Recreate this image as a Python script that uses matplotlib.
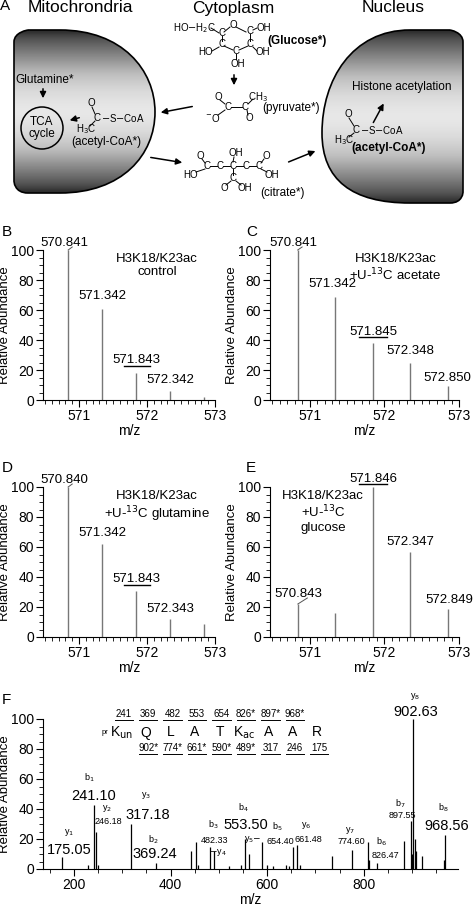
import numpy as np
import matplotlib.pyplot as plt
from matplotlib.path import Path
from matplotlib.patches import PathPatch, Circle, FancyArrowPatch
from matplotlib.ticker import MultipleLocator

plt.rcParams['font.family'] = ['Liberation Sans', 'DejaVu Sans']

# ---- data: isotope clusters (m/z, relative abundance) ----
mz_b = [570.841, 571.342, 571.843, 572.342, 572.842]
ab_b = [100, 61, 18, 6, 2]
mz_c = [570.841, 571.342, 571.845, 572.348, 572.850]
ab_c = [100, 69, 38, 25, 9.5]
mz_d = [570.840, 571.342, 571.843, 572.343, 572.845]
ab_d = [100, 62, 31, 12, 9]
mz_e = [570.843, 571.342, 571.846, 572.347, 572.849]
ab_e = [22, 16, 100, 57, 19]

# ---- data: MS/MS spectrum ----
mz_f = [175.05, 230, 241.10, 246.18, 249, 317.18, 369.24, 442, 452, 456, 482.33, 489,
        520, 545, 553.50, 563, 590, 600, 612, 640, 646, 654.40, 661.48, 668, 735,
        774.60, 808, 811, 826.47, 884, 897.55, 900, 902.63, 905, 908, 920, 965, 968.56]
ab_f = [8, 3, 43, 25, 3, 30, 4, 12, 18, 3, 15, 12,
        2, 3, 20, 10, 18, 3, 2, 3, 2, 15, 16, 3, 9,
        13, 18, 6, 4, 19, 32, 10, 100, 20, 12, 9, 6, 23]

fig = plt.figure(figsize=(4.74, 9.09), dpi=100)
W, H = 474, 909


def px_axes(l, t, r, b):
    return fig.add_axes([l / W, 1 - b / H, (r - l) / W, (b - t) / H])


# ================= panel A =================
axA = fig.add_axes([0, 1 - 212 / H, 1, 212 / H])
axA.set_xlim(0, 474)
axA.set_ylim(212, 0)
axA.axis('off')

grad = np.abs(np.linspace(-1, 1, 200))[:, None] ** 1.6 * np.ones((1, 10))

mito = Path([(28, 30), (60, 30), (122, 30), (155, 70), (155, 112), (155, 155), (122, 193),
             (60, 193), (28, 193), (14, 193), (14, 181), (14, 181), (14, 42), (14, 32), (28, 30), (28, 30)],
            [1, 2, 4, 4, 4, 4, 4, 4, 2, 4, 4, 4, 2, 4, 4, 79])
nuc = Path([(450, 30), (410, 30), (352, 30), (322, 80), (322, 133), (322, 180), (352, 203),
            (410, 203), (450, 203), (463, 203), (463, 192), (463, 192), (463, 42), (463, 32), (450, 30), (450, 30)],
           [1, 2, 4, 4, 4, 4, 4, 4, 2, 4, 4, 4, 2, 4, 4, 79])
for p, (y0, y1) in [(mito, (30, 193)), (nuc, (30, 203))]:
    patch = PathPatch(p, facecolor='none', edgecolor='black', lw=1.2, zorder=2)
    axA.add_patch(patch)
    im = axA.imshow(grad, cmap='Greys', vmin=-0.25, vmax=1.2, extent=(10, 466, y1, y0),
                    aspect='auto', zorder=1)
    im.set_clip_path(patch)

for x, s in [(80, 'Mitochrondria'), (233, 'Cytoplasm'), (393, 'Nucleus')]:
    axA.text(x, 8, s, ha='center', va='center', fontsize=12.5)
axA.text(0, 6, 'A', ha='left', va='center', fontsize=11)


def arrow(x0, y0, x1, y1):
    axA.add_patch(FancyArrowPatch((x0, y0), (x1, y1), arrowstyle='-|>', mutation_scale=9,
                                  lw=1.1, color='black', zorder=5))


def chem(x, y, s, fs=7, **kw):
    axA.text(x, y, s, ha='center', va='center', fontsize=fs, zorder=6, **kw)


def bond(pts):
    xs, ys = zip(*pts)
    axA.plot(xs, ys, color='black', lw=0.7, zorder=6)


# glucose
chem(195, 28, 'HO$-$H$_2$C')
bond([(211, 28), (219, 33)])
bond([(224, 32), (230, 27)]); chem(233, 25, 'O'); bond([(236, 27), (246, 32)])
bond([(253, 30), (257, 28)]); chem(264, 28, 'OH')
bond([(222, 36), (222, 41)]); bond([(250, 34), (250, 41)])
chem(222, 44, 'C'); chem(250, 44, 'C'); chem(222, 33, 'C'); chem(250, 31, 'C')
chem(206, 52, 'HO'); chem(263, 52, 'OH')
bond([(224, 46), (233, 50)]); bond([(248, 46), (239, 50)]); chem(236, 51, 'C')
bond([(212, 51), (219, 47)]); bond([(253, 47), (257, 51)])
bond([(236, 54), (236, 59)]); chem(238, 64, 'OH')
chem(297, 41, '(Glucose*)', fs=8.5, fontweight='bold')
arrow(234, 72, 234, 88)

# pyruvate
chem(218, 97, 'O'); chem(228, 107, 'C'); chem(245, 107, 'C'); chem(258, 97, 'CH$_3$')
chem(213, 118, '$^{-}$O'); chem(249, 118, 'O')
bond([(220, 100), (225, 104)]); bond([(231, 107), (242, 107)]); bond([(248, 104), (253, 99)])
bond([(225, 110), (218, 115)]); bond([(247, 110), (248, 115)])
chem(291, 108, '(pyruvate*)', fs=8.5)
arrow(195, 106, 158, 113)

# citrate
chem(200, 156, 'O'); chem(207, 166, 'C'); chem(220, 166, 'C'); chem(233, 166, 'C')
chem(246, 166, 'C'); chem(259, 166, 'C'); chem(266, 156, 'O')
chem(191, 175, 'HO'); chem(272, 175, 'OH'); chem(236, 153, 'OH')
chem(233, 178, 'C'); chem(224, 188, 'O'); chem(245, 188, 'OH')
for a, b in [(210, 217), (223, 230), (236, 243), (249, 256)]:
    bond([(a, 166), (b, 166)])
bond([(233, 162), (234, 157)]); bond([(233, 169), (233, 175)])
bond([(231, 181), (226, 185)]); bond([(236, 181), (241, 185)])
bond([(202, 159), (205, 163)]); bond([(205, 169), (196, 172)])
bond([(261, 163), (264, 159)]); bond([(261, 169), (267, 172)])
chem(283, 193, '(citrate*)', fs=8.5)
arrow(148, 157, 185, 163)
arrow(286, 163, 318, 150)

# mitochondria contents
axA.add_patch(Circle((42, 128), 21, facecolor='none', edgecolor='black', lw=1.1, zorder=6))
chem(42, 128, 'TCA\ncycle', fs=8.5, linespacing=1.1)
chem(45, 80, 'Glutamine*', fs=8.5)
arrow(43, 86, 43, 101)
chem(91, 103, 'O'); chem(97, 118, 'C'); chem(102, 118, '$-$S$-$CoA', ha_override=None) if False else None
axA.text(101, 118, '$-$S$-$CoA', ha='left', va='center', fontsize=7, zorder=6)
chem(86, 129, 'H$_3$C')
bond([(92, 107), (95, 114)]); bond([(95, 121), (90, 126)])
chem(106, 142, '(acetyl-CoA*)', fs=8.5)
arrow(82, 117, 67, 121)

# nucleus contents
chem(402, 87, 'Histone acetylation', fs=8.5)
arrow(372, 125, 385, 101)
chem(348, 114, 'O'); chem(356, 130, 'C')
axA.text(360, 130, '$-$S$-$CoA', ha='left', va='center', fontsize=7, zorder=6)
chem(344, 140, 'H$_3$C')
bond([(349, 118), (354, 126)]); bond([(354, 133), (349, 137)])
chem(389, 148, '(acetyl-CoA*)', fs=8.5, fontweight='bold')


# ================= panels B-E =================
def style_axes(ax):
    ax.set_ylim(0, 100)
    ax.spines[['top', 'right']].set_visible(False)
    ax.set_yticks(range(0, 101, 20))
    ax.yaxis.set_minor_locator(MultipleLocator(5))
    ax.tick_params(which='major', length=5, labelsize=10, width=0.8, pad=1.5)
    ax.tick_params(which='minor', length=3, width=0.6)
    ax.set_xlabel('m/z', fontsize=10, labelpad=1)
    ax.set_ylabel('Relative Abundance', fontsize=9.5, labelpad=0)


def spectrum(ax, mz, ab, labels, title, tx, ty):
    ax.vlines(mz, 0, ab, color='#777777', lw=1.0)
    ax.set_xlim(570.47, 573.0)
    ax.set_xticks([571, 572, 573])
    ax.xaxis.set_minor_locator(MultipleLocator(0.1))
    style_axes(ax)
    for text, x, y, under, lead in labels:
        ax.text(x, y + 1.5, text, ha='center', va='baseline', fontsize=9.5, clip_on=False)
        if under:
            ax.plot([x - 0.19, x + 0.19], [y - 0.2, y - 0.2], color='black', lw=1, clip_on=False)
        if lead is not None:
            ax.plot([x + 0.12, lead[0]], [y + 1, lead[1]], color='#555555', lw=0.7, clip_on=False)
    ax.text(tx, ty, title, ha='center', va='top', fontsize=9.5, linespacing=1.15)


axB = px_axes(43, 250, 215, 400)
spectrum(axB, mz_b, ab_b,
         [('570.841', 570.78, 101, False, (570.841, 100)),
          ('571.342', 571.35, 66, False, None),
          ('571.843', 571.85, 23, True, None),
          ('572.342', 572.34, 10, False, None)],
         'H3K18/K23ac\ncontrol', 572.15, 98)
axC = px_axes(270, 250, 459, 400)
spectrum(axC, mz_c, ab_c,
         [('570.841', 570.78, 101, False, (570.841, 100)),
          ('571.342', 571.30, 74, False, None),
          ('571.845', 571.85, 42, True, None),
          ('572.348', 572.35, 29, False, None),
          ('572.850', 572.85, 11, False, None)],
         'H3K18/K23ac\n+U-$^{13}$C acetate', 572.15, 98)
axD = px_axes(43, 487, 215, 637)
spectrum(axD, mz_d, ab_d,
         [('570.840', 570.78, 101, False, (570.840, 100)),
          ('571.342', 571.35, 66, False, None),
          ('571.843', 571.85, 35, True, None),
          ('572.343', 572.34, 15, False, None)],
         'H3K18/K23ac\n+U-$^{13}$C glutamine', 572.15, 98)
axE = px_axes(270, 487, 459, 637)
spectrum(axE, mz_e, ab_e,
         [('571.846', 571.85, 102, True, None),
          ('572.347', 572.35, 60, False, None),
          ('570.843', 570.85, 25, False, (570.843, 22)),
          ('572.849', 572.87, 21, False, None)],
         'H3K18/K23ac\n+U-$^{13}$C\nglucose', 571.18, 98)

for x, y, s in [(2, 232, 'B'), (246, 232, 'C'), (2, 468, 'D'), (246, 468, 'E'), (2, 700, 'F')]:
    fig.text(x / W, 1 - y / H, s, ha='left', va='center', fontsize=11)

# ================= panel F =================
axF = px_axes(43, 719, 458, 869)
axF.vlines(mz_f, 0, ab_f, color='black', lw=0.9)
axF.set_xlim(136, 995)
axF.set_xticks([200, 400, 600, 800])
axF.xaxis.set_minor_locator(MultipleLocator(50))
style_axes(axF)

ion_labels = [('y$_1$', 190, 24, 6.5), ('175.05', 190, 12.7, 10.5),
              ('b$_1$', 231, 60.6, 6.5), ('241.10', 241, 49, 10.5),
              ('y$_2$', 269, 40, 6.5), ('246.18', 271, 32, 6.5),
              ('y$_3$', 350, 48.7, 6.5), ('317.18', 353, 36, 10.5),
              ('b$_2$', 364, 19.3, 6.5), ('369.24', 367, 9.8, 10.5),
              ('b$_3$', 488, 29.3, 6.5), ('482.33', 491, 19.3, 6.5), ('$-$y$_4$', 497, 11, 6.5),
              ('b$_4$', 550, 41, 6.5), ('553.50', 555, 29.3, 10.5), ('y$_5$$-$', 571, 19.6, 6.5),
              ('b$_5$', 620, 28, 6.5), ('654.40', 627, 18.4, 6.5),
              ('y$_6$', 680, 29, 6.5), ('661.48', 685, 19.6, 6.5),
              ('y$_7$', 771, 26, 6.5), ('774.60', 775, 18.4, 6.5),
              ('b$_6$', 837, 18, 6.5), ('826.47', 844, 9, 6.5),
              ('b$_7$', 876, 43.6, 6.5), ('897.55', 879, 36, 6.5),
              ('y$_8$', 907, 115, 6.5), ('902.63', 907, 105, 10.5),
              ('b$_8$', 965, 40.7, 6.5), ('968.56', 972, 29, 10.5)]
for s, x, y, fs in ion_labels:
    axF.text(x, y, s, ha='center', va='center', fontsize=fs, clip_on=False)

b_ions = ['241', '369', '482', '553', '654', '826*', '897*', '968*']
y_ions = ['902*', '774*', '661*', '590*', '489*', '317', '246', '175']
residues = ['K$_{\\rm un}$', 'Q', 'L', 'A', 'T', 'K$_{\\rm ac}$', 'A', 'A', 'R']
step = 50.6
x0 = 303
for i, s in enumerate(b_ions):
    x = x0 + i * step
    axF.text(x, 103.5, s, ha='center', va='center', fontsize=7, clip_on=False)
    axF.plot([x - 19, x + 19], [99.5, 99.5], color='black', lw=0.7, clip_on=False)
for i, s in enumerate(y_ions):
    x = x0 + (i + 1) * step
    axF.text(x, 80.5, s, ha='center', va='center', fontsize=7)
    axF.plot([x - 19, x + 19], [76.5, 76.5], color='black', lw=0.7)
axF.text(x0 - 38, 91, 'pr', ha='center', va='center', fontsize=5.5)
for i, s in enumerate(residues):
    axF.text(x0 - 4 + i * step, 91, s, ha='center', va='center', fontsize=10)

fig.savefig('out.png', dpi=100)
